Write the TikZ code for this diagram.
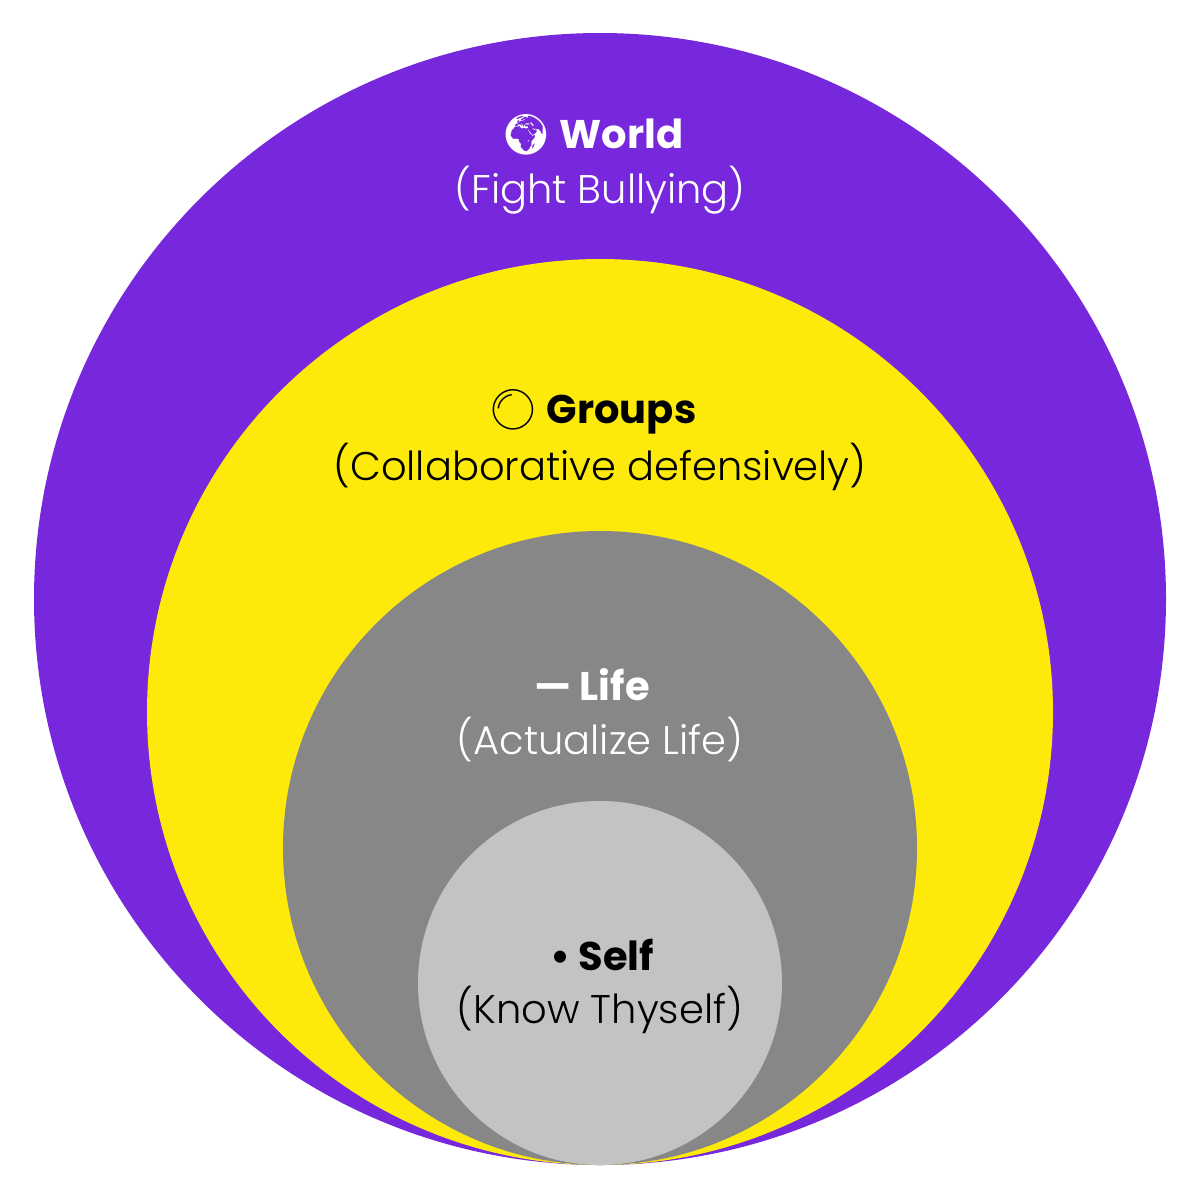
\documentclass[tikz,border=0pt]{standalone}
\usepackage{fontspec}
\setmainfont{Poppins}
\newfontfamily\lightfont{Poppins Light}
\newfontfamily\emo{Noto Emoji}
\definecolor{cpurple}{HTML}{7828DC}
\definecolor{cyellow}{HTML}{FDEA0A}
\definecolor{cgray}{HTML}{878787}
\definecolor{clight}{HTML}{C3C3C3}
\begin{document}
\begin{tikzpicture}[x=1pt,y=-1pt,
  title/.style={font=\fontsize{40}{44}\selectfont\bfseries},
  sub/.style={font=\fontsize{40}{44}\lightfont}]
\useasboundingbox (0,0) rectangle (1200,1200);
\fill[white] (0,0) rectangle (1200,1200);
\fill[cpurple] (600,599) circle (566) coordinate (w);
\fill[cyellow] (600,712) circle (453);
\fill[cgray] (600,848) circle (317);
\fill[clight] (600,983) circle (182);
\node[title,text=white] (t1) at (592,135) {{\emo 🌍} World};
\node[sub,text=white] (s1) at (600,190) {(Fight Bullying)};
\node[title,text=black] (t2) at (592,412) {{\emo ⚪} Groups};
\node[sub,text=black] (s2) at (600,467) {(Collaborative defensively)};
\node[title,text=white] (t3) at (592,685) {— Life};
\node[sub,text=white] (s3) at (600,740) {(Actualize Life)};
\node[title,text=black] (t4) at (602,955) {• Self};
\node[sub,text=black] (s4) at (600,1010) {(Know Thyself)};
\end{tikzpicture}
\end{document}
